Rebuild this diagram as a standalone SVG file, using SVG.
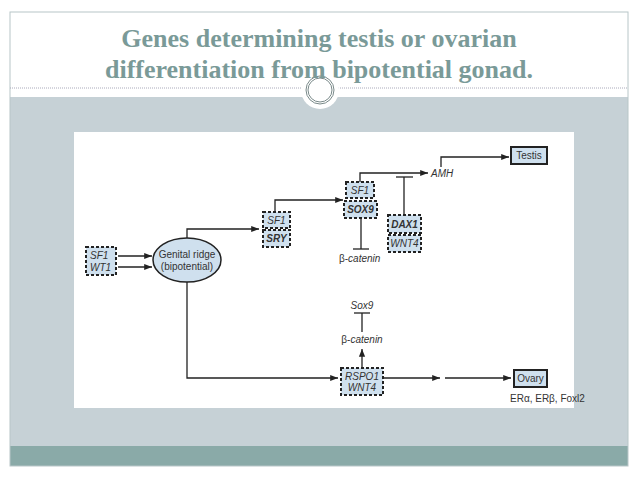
<svg xmlns="http://www.w3.org/2000/svg" width="638" height="478" viewBox="0 0 638 478">
<defs>
<style>
.bx{fill:#cfe0ee;stroke:#222;stroke-width:2;stroke-dasharray:3 2}
.sb{fill:#cfe0ee;stroke:#222;stroke-width:2}
.ln{fill:none;stroke:#222;stroke-width:1.3}
.t{font-family:"Liberation Sans",Arial,sans-serif;font-size:10px;fill:#333}
.i{font-style:italic}
.b{font-weight:bold}
</style>
<marker id="a" viewBox="0 0 10 10" refX="10" refY="5" markerWidth="6" markerHeight="6" orient="auto"><path d="M0,1 L10,5 L0,9z" fill="#222"/></marker>
</defs>
<rect width="638" height="478" fill="#fff"/>
<rect x="10" y="97" width="618" height="349" fill="#c6d1d6"/>
<rect x="10" y="446" width="618" height="20" fill="#8aaaa8"/>
<rect x="10" y="12" width="618" height="454" fill="none" stroke="#b8c6c8"/>
<line x1="10" y1="88" x2="628" y2="88" stroke="#aab" stroke-dasharray="1 1"/>
<circle cx="320" cy="90" r="19" fill="#fff"/>
<circle cx="320" cy="90" r="14" fill="none" stroke="#7a8a8a"/>
<circle cx="320" cy="90" r="12" fill="none" stroke="#7a8a8a"/>
<g font-family="Liberation Serif,serif" font-weight="bold" font-size="26" fill="#7a9a98" text-anchor="middle">
<text x="319" y="47">Genes determining testis or ovarian</text>
<text x="319" y="78">differentiation from bipotential gonad.</text>
</g>
<rect x="74" y="132" width="500" height="276" fill="#fff"/>
<g id="connectors">
<line class="ln" x1="118" y1="256" x2="152" y2="256" marker-end="url(#a)"/>
<line class="ln" x1="118" y1="267" x2="152" y2="267" marker-end="url(#a)"/>
<polyline class="ln" points="187,238 187,229 259,229" marker-end="url(#a)"/>
<polyline class="ln" points="275,212 275,200 343,200" marker-end="url(#a)"/>
<polyline class="ln" points="360,182 360,173 428,173" marker-end="url(#a)"/>
<polyline class="ln" points="404,215 404,177"/><line class="ln" x1="396" y1="177" x2="413" y2="177"/>
<polyline class="ln" points="441,167 441,157 509,157" marker-end="url(#a)"/>
<polyline class="ln" points="361,218 361,249"/><line class="ln" x1="353" y1="249" x2="369" y2="249"/>
<polyline class="ln" points="187,282 187,378 338,378" marker-end="url(#a)"/>
<line class="ln" x1="362" y1="368" x2="362" y2="349" marker-end="url(#a)"/>
<line class="ln" x1="362" y1="332" x2="362" y2="313"/><line class="ln" x1="354" y1="313" x2="370" y2="313"/>
<line class="ln" x1="384" y1="378" x2="440" y2="378" marker-end="url(#a)"/>
<line class="ln" x1="445" y1="378" x2="511" y2="378" marker-end="url(#a)"/>
</g>
<g id="n-sf1wt1"><rect class="bx" x="86" y="247" width="30" height="28"/><text class="t i" x="90" y="259">SF1</text><text class="t i" x="90" y="271">WT1</text></g>
<g id="n-ridge"><ellipse cx="187" cy="260" rx="34" ry="22" fill="#cfe0ee" stroke="#222" stroke-width="1.5"/><text class="t" x="187" y="258" text-anchor="middle">Genital ridge</text><text class="t" x="187" y="270" text-anchor="middle">(bipotential)</text></g>
<g id="n-sf1a"><rect class="bx" x="263" y="212" width="27" height="16"/><text class="t i" x="276.5" y="224" text-anchor="middle">SF1</text></g>
<g id="n-sry"><rect class="bx" x="263" y="230" width="27" height="17"/><text class="t i b" x="276.5" y="242" text-anchor="middle">SRY</text></g>
<g id="n-sf1b"><rect class="bx" x="346" y="182" width="28" height="16"/><text class="t i" x="360" y="194" text-anchor="middle">SF1</text></g>
<g id="n-sox9"><rect class="bx" x="344" y="201" width="33" height="17"/><text class="t i b" x="360.5" y="213" text-anchor="middle">SOX9</text></g>
<g id="n-dax1"><rect class="bx" x="388" y="215" width="33" height="18"/><text class="t i b" x="404.5" y="228" text-anchor="middle">DAX1</text></g>
<g id="n-wnt4a"><rect class="bx" x="388" y="235" width="33" height="17"/><text class="t i" x="404.5" y="247" text-anchor="middle">WNT4</text></g>
<g id="n-bcat1"><text class="t" x="339" y="262"><tspan>β-</tspan><tspan class="i">catenin</tspan></text></g>
<g id="n-amh"><text class="t i" x="431" y="177">AMH</text></g>
<g id="n-testis"><rect class="sb" x="511" y="147" width="36" height="17"/><text class="t" x="529" y="159" text-anchor="middle">Testis</text></g>
<g id="n-sox9b"><text class="t i" x="362" y="309" text-anchor="middle">Sox9</text></g>
<g id="n-bcat2"><text class="t" x="362" y="343" text-anchor="middle"><tspan>β-</tspan><tspan class="i">catenin</tspan></text></g>
<g id="n-rspo1"><rect class="bx" x="341" y="368" width="42" height="27"/><text class="t i" x="362" y="380" text-anchor="middle">RSPO1</text><text class="t i" x="362" y="391" text-anchor="middle">WNT4</text></g>
<g id="n-ovary"><rect class="sb" x="514" y="370" width="33" height="17"/><text class="t" x="530.5" y="382" text-anchor="middle">Ovary</text></g>
<g id="n-er"><text class="t" x="510" y="402">ERα, ERβ, Foxl2</text></g>
</svg>
